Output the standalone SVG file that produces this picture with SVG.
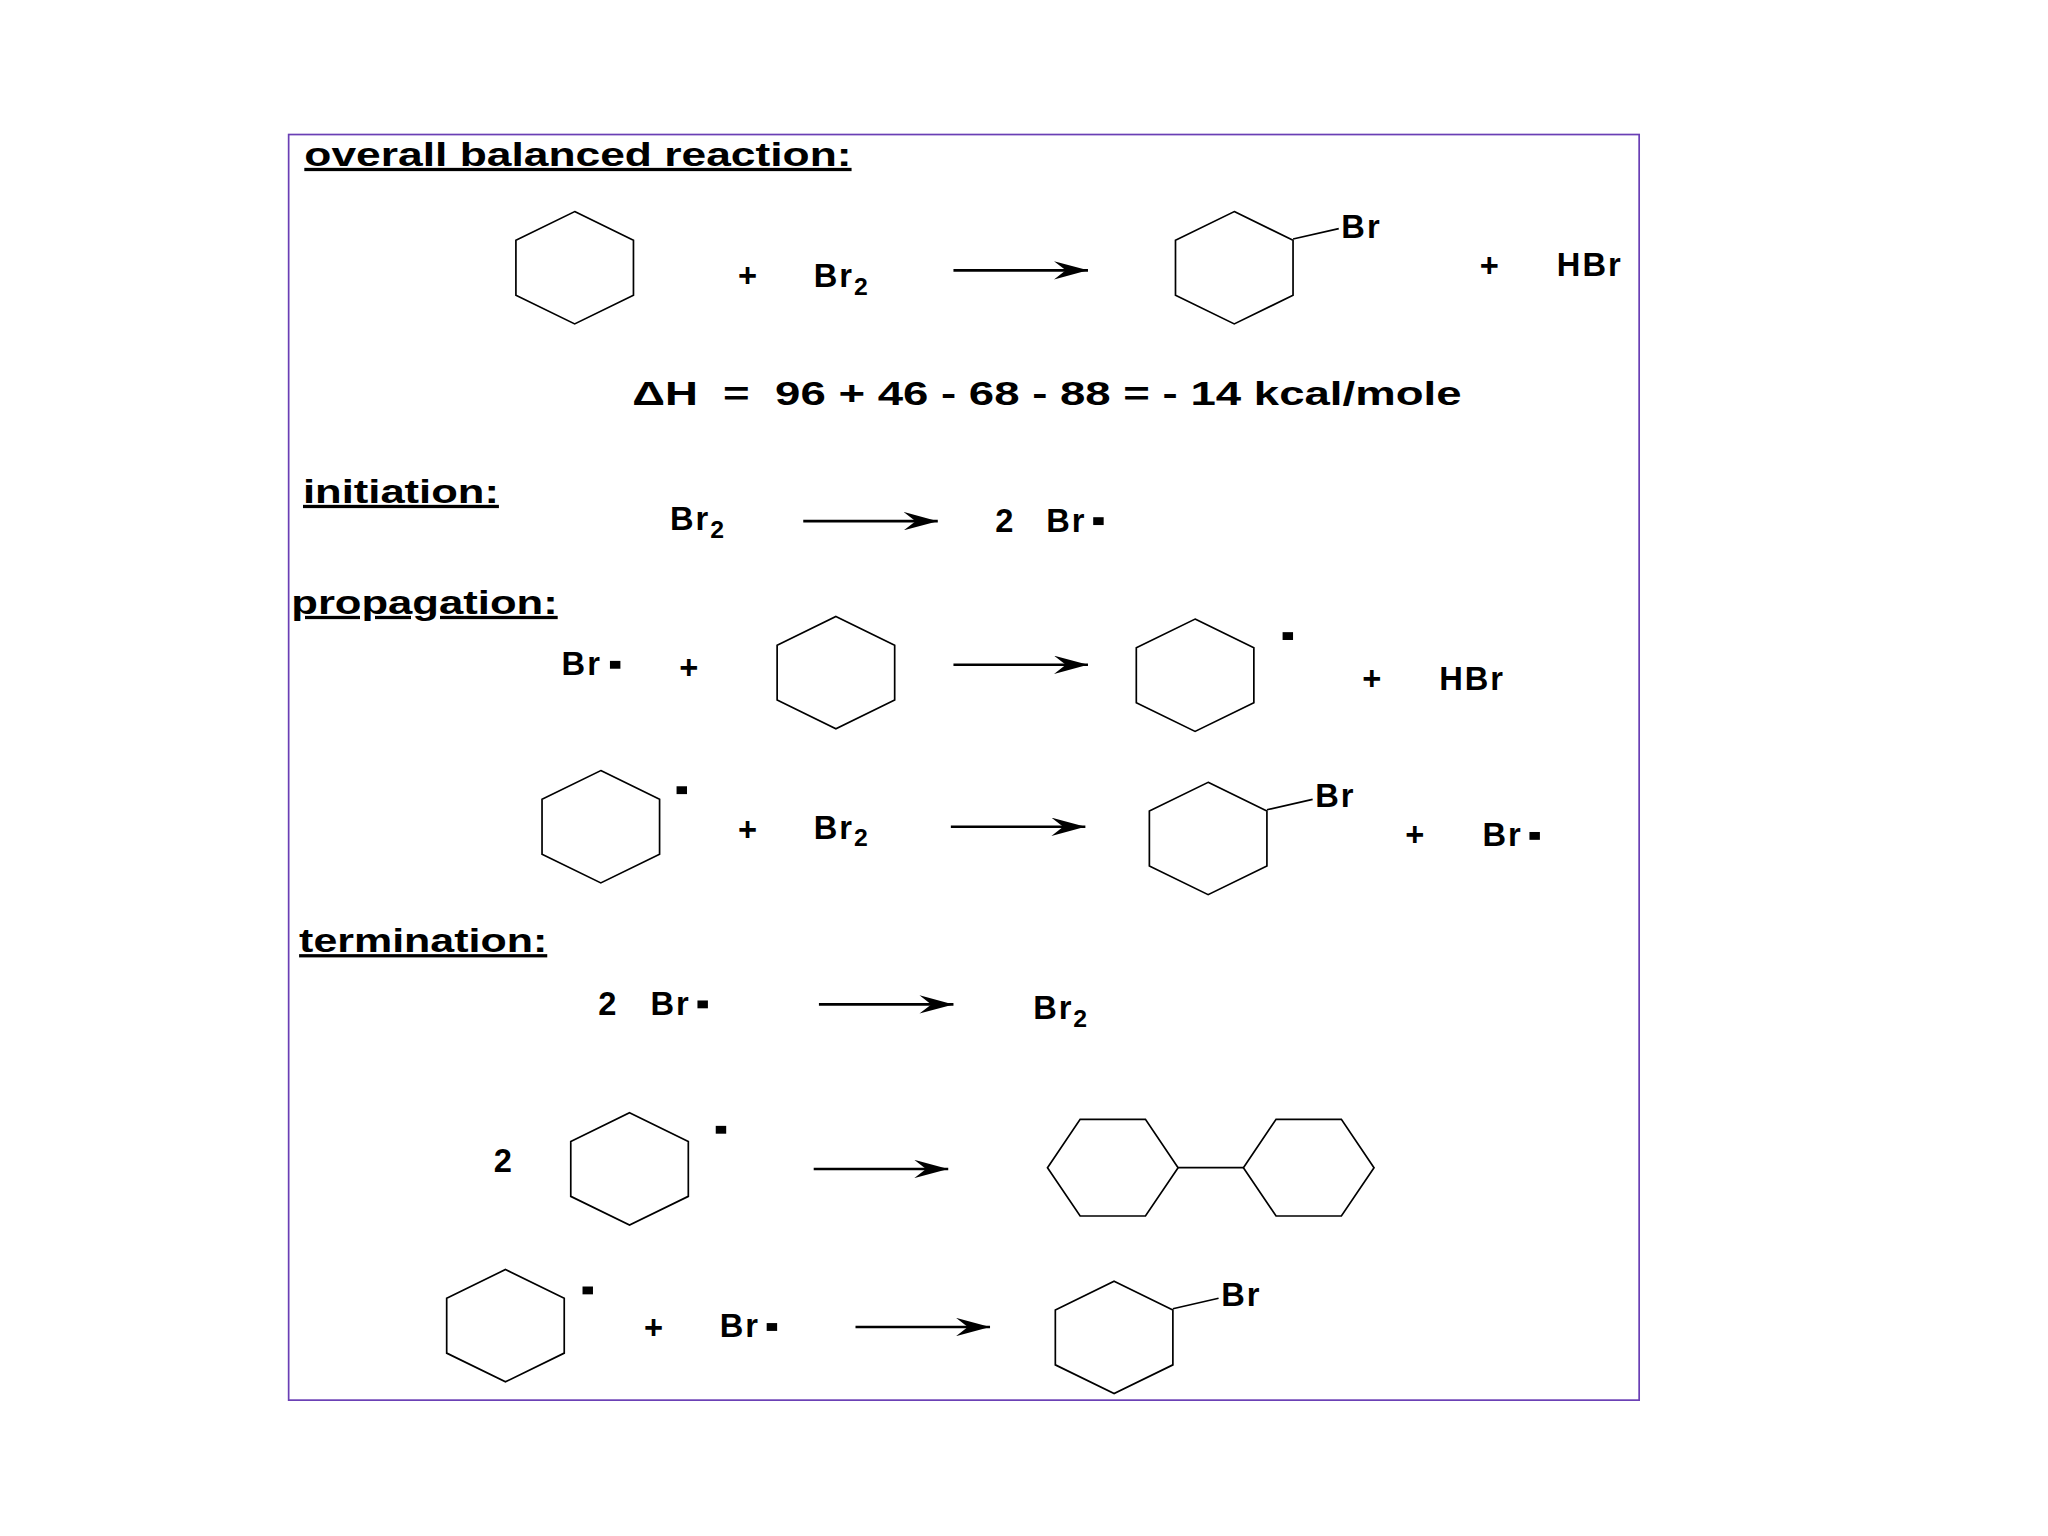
<svg xmlns="http://www.w3.org/2000/svg" width="2048" height="1536" viewBox="0 0 2048 1536">
<style>
text{font-family:"Liberation Sans",Arial,sans-serif;font-weight:bold;font-size:25px;fill:#000;letter-spacing:1.5px}
.h{text-decoration:underline;letter-spacing:0}
.r{fill:none;stroke:#000;stroke-width:1.3}
.a{stroke:#000;stroke-width:2;fill:none;marker-end:url(#ah)}
.sub{font-size:19px}
</style>
<defs>
<path id="hex" class="r" d="M0,-43 L45,-21 L45,21 L0,43 L-45,21 L-45,-21Z"/>
<path id="hexf" class="r" d="M-50,0 L-25,-37 L25,-37 L50,0 L25,37 L-25,37Z"/>
<marker id="ah" markerWidth="28" markerHeight="14" refX="26" refY="7" orient="auto" markerUnits="userSpaceOnUse">
<path d="M0,0 L26,7 L0,14 L9,7Z" fill="#000"/>
</marker>
</defs>
<rect width="2048" height="1536" fill="#fff"/>
<g transform="scale(1.3061)">
<rect x="221" y="103" width="1034" height="969" fill="none" stroke="#6a3fb5" stroke-width="1.3"/>
<g id="overall">
<text x="233" y="127" class="h" textLength="419" lengthAdjust="spacingAndGlyphs">overall balanced reaction:</text>
<use href="#hex" x="440" y="205"/>
<text x="565" y="220">+</text>
<text x="623" y="220">Br<tspan class="sub" dy="6">2</tspan></text>
<use href="#hex" x="945" y="205"/>
<line class="r" x1="990" y1="183" x2="1025" y2="175"/>
<text x="1027" y="182">Br</text>
<text x="1133" y="212">+</text>
<text x="1192" y="211">HBr</text>
<text x="484" y="310" class="h" style="text-decoration:none" textLength="635" lengthAdjust="spacingAndGlyphs" xml:space="preserve">ΔH  =  96 + 46 - 68 - 88 = - 14 kcal/mole</text>
</g>
<g id="initiation">
<text x="232" y="385" class="h" textLength="150" lengthAdjust="spacingAndGlyphs">initiation:</text>
<text x="513" y="406">Br<tspan class="sub" dy="6">2</tspan></text>
<text x="762" y="407">2</text><text x="801" y="407">Br</text><rect x="837" y="396" width="8" height="6"/>
</g>
<g id="propagation">
<text x="223" y="470" class="h" textLength="204" lengthAdjust="spacingAndGlyphs">propagation:</text>
<text x="430" y="517">Br</text><rect x="467" y="506" width="8" height="6"/>
<text x="520" y="520">+</text>
<use href="#hex" x="640" y="515"/>
<use href="#hex" x="915" y="517"/>
<rect x="982" y="484" width="8" height="6"/>
<text x="1043" y="528">+</text>
<text x="1102" y="528">HBr</text>
<use href="#hex" x="460" y="633"/>
<rect x="518" y="602" width="8" height="6"/>
<text x="565" y="644">+</text>
<text x="623" y="642">Br<tspan class="sub" dy="6">2</tspan></text>
<use href="#hex" x="925" y="642"/>
<line class="r" x1="970" y1="620" x2="1005" y2="612"/>
<text x="1007" y="618">Br</text>
<text x="1076" y="648">+</text>
<text x="1135" y="648">Br</text><rect x="1171" y="637" width="8" height="6"/>
</g>
<g id="termination">
<text x="229" y="729" class="h" textLength="190" lengthAdjust="spacingAndGlyphs">termination:</text>
<text x="458" y="777">2</text><text x="498" y="777">Br</text><rect x="534" y="766" width="8" height="6"/>
<text x="791" y="780">Br<tspan class="sub" dy="6">2</tspan></text>
<text x="378" y="897">2</text>
<use href="#hex" x="482" y="895"/>
<rect x="548" y="862" width="8" height="6"/>
<use href="#hexf" x="852" y="894"/>
<line class="r" x1="902" y1="894" x2="952" y2="894"/>
<use href="#hexf" x="1002" y="894"/>
<use href="#hex" x="387" y="1015"/>
<rect x="446" y="985" width="8" height="6"/>
<text x="493" y="1025">+</text>
<text x="551" y="1024">Br</text><rect x="587" y="1013" width="8" height="6"/>
<use href="#hex" x="853" y="1024"/>
<line class="r" x1="898" y1="1002" x2="933" y2="994"/>
<text x="935" y="1000">Br</text>
</g>
<g id="connectors">
<line class="a" x1="730" y1="207" x2="833" y2="207"/>
<line class="a" x1="615" y1="399" x2="718" y2="399"/>
<line class="a" x1="730" y1="509" x2="833" y2="509"/>
<line class="a" x1="728" y1="633" x2="831" y2="633"/>
<line class="a" x1="627" y1="769" x2="730" y2="769"/>
<line class="a" x1="623" y1="895" x2="726" y2="895"/>
<line class="a" x1="655" y1="1016" x2="758" y2="1016"/>
</g>
</g>
</svg>
